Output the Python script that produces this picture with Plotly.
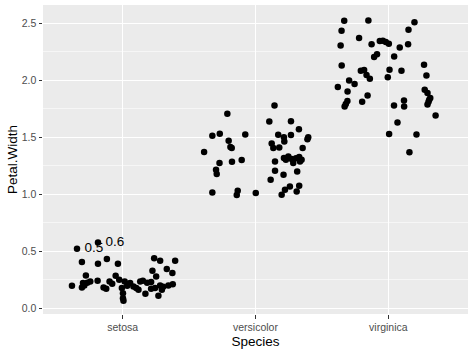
import plotly.graph_objects as go

species = ["setosa", "versicolor", "virginica"]

setosa_dx = [-0.344, -0.186, -0.307, -0.186, -0.119, -0.036, -0.277, -0.053, -0.026,
             -0.382, -0.299, -0.307, -0.289, -0.244, -0.189, -0.144, -0.124, -0.099,
             0.015, -0.006, 0.002, 0.002, 0.006, 0.056, 0.081, 0.102, 0.132, 0.152,
             0.119, 0.171, 0.214, 0.244, 0.282, 0.295, 0.269, 0.344, 0.377, 0.237,
             0.282, 0.395, 0.224, 0.332, 0.374, 0.252,
             -0.267, -0.079, 0.034, 0.184, 0.305, 0.214]
setosa_pw = [0.522, 0.577, 0.405, 0.390, 0.432, 0.390, 0.288, 0.285, 0.250,
             0.197, 0.221, 0.182, 0.200, 0.235, 0.241, 0.182, 0.171, 0.235,
             0.235, 0.177, 0.133, 0.089, 0.066, 0.221, 0.191, 0.177, 0.235, 0.241,
             0.162, 0.127, 0.230, 0.177, 0.200, 0.162, 0.110, 0.200, 0.212, 0.440,
             0.417, 0.417, 0.329, 0.344, 0.309, 0.279,
             0.224, 0.215, 0.197, 0.224, 0.189, 0.171]

versicolor_dx = [-0.325, -0.134, -0.141, 0.002, 0.222, 0.310, 0.197,
                 0.114, 0.329, 0.259,
                 -0.297, -0.292, 0.147, 0.314, 0.211,
                 -0.271, -0.177, -0.104, 0.147, 0.214, 0.247, 0.272, 0.284, 0.329,
                 0.347, 0.335, 0.229, 0.305,
                 -0.189, -0.179, -0.387, 0.134, 0.179, 0.355, 0.122,
                 -0.325, -0.269, -0.077, -0.202, 0.171, 0.214, 0.267, 0.397, 0.391, 0.217,
                 0.104, 0.267, 0.327,
                 -0.212, 0.143]
versicolor_pw = [1.016, 1.031, 0.993, 1.011, 1.039, 1.025, 0.996,
                 1.127, 1.075, 1.068,
                 1.215, 1.178, 1.206, 1.200, 1.171,
                 1.274, 1.285, 1.300, 1.288, 1.318, 1.332, 1.309, 1.274, 1.326,
                 1.303, 1.288, 1.303, 1.316,
                 1.414, 1.405, 1.370, 1.405, 1.411, 1.405, 1.445,
                 1.513, 1.531, 1.525, 1.469, 1.522, 1.500, 1.520, 1.500, 1.482, 1.463,
                 1.639, 1.640, 1.570,
                 1.706, 1.779]

virginica_dx = [-0.332, -0.150, 0.197,
                -0.352, 0.152, -0.220,
                -0.359, -0.126, -0.064, -0.041, -0.019, 0.004, 0.086, 0.149,
                -0.107, -0.085, 0.044,
                -0.351, -0.207, -0.182, 0.009, 0.099, 0.269,
                -0.164, -0.139, 0.287, -0.004, -0.295, -0.254,
                -0.380, -0.307, -0.156, 0.274, 0.295,
                -0.197, -0.308, -0.320, -0.329, 0.316, 0.303, 0.295, 0.118, 0.119, 0.043, 0.308,
                0.356, 0.069, 0.006, 0.212, 0.159]
virginica_pw = [2.522, 2.525, 2.509,
                2.434, 2.443, 2.370,
                2.304, 2.315, 2.344, 2.346, 2.335, 2.320, 2.288, 2.315,
                2.204, 2.227, 2.209,
                2.130, 2.083, 2.089, 2.092, 2.083, 2.136,
                2.046, 2.013, 2.042, 2.026, 1.998, 1.967,
                1.940, 1.902, 1.867, 1.917, 1.888,
                1.811, 1.818, 1.791, 1.770, 1.844, 1.811, 1.788, 1.822, 1.770, 1.778, 1.829,
                1.690, 1.630, 1.529, 1.525, 1.368]

# labelled setosa observations (index into setosa arrays, label text)
label_idx = [0, 1]
label_txt = ["0.5", "0.6"]

yticks = [0.0, 0.5, 1.0, 1.5, 2.0, 2.5]

fig = go.Figure()
groups = [(setosa_dx, setosa_pw), (versicolor_dx, versicolor_pw), (virginica_dx, virginica_pw)]
for i, (dx, pw) in enumerate(groups):
    fig.add_trace(go.Scatter(
        x=[i + d for d in dx], y=pw, mode="markers",
        marker=dict(color="black", size=6.5, line=dict(width=0)),
        showlegend=False, hoverinfo="skip"))

fig.add_trace(go.Scatter(
    x=[0 + setosa_dx[k] for k in label_idx], y=[setosa_pw[k] for k in label_idx],
    mode="text", text=["  " + t for t in label_txt], textposition="middle right",
    textfont=dict(family="Liberation Sans, Arial, sans-serif", size=13.5, color="black"),
    showlegend=False, hoverinfo="skip"))

fig.update_layout(
    width=474, height=355,
    margin=dict(l=43, r=6, t=5, b=41),
    paper_bgcolor="white", plot_bgcolor="#EBEBEB",
    font=dict(family="Liberation Sans, Arial, sans-serif"),
    xaxis=dict(
        range=[-0.6, 2.6], tickvals=[0, 1, 2], ticktext=species,
        showgrid=True, gridcolor="white", gridwidth=1.1, zeroline=False,
        ticks="outside", ticklen=3.5, tickwidth=1, tickcolor="#333333",
        tickfont=dict(size=10.5, color="#4D4D4D"),
        title=dict(text="Species", font=dict(size=13.5, color="black"), standoff=4),
        showline=False,
    ),
    yaxis=dict(
        range=[-0.05, 2.66], tickvals=yticks, ticktext=[f"{v:.1f}" for v in yticks],
        showgrid=True, gridcolor="white", gridwidth=1.1, zeroline=False,
        ticks="outside", ticklen=3.5, tickwidth=1, tickcolor="#333333",
        tickfont=dict(size=10.5, color="#4D4D4D"),
        title=dict(text="Petal.Width", font=dict(size=13.5, color="black"), standoff=1),
        minor=dict(tickvals=[0.25, 0.75, 1.25, 1.75, 2.25], showgrid=True,
                   gridcolor="#F6F6F6", gridwidth=0.6, ticks=""),
        showline=False,
    ),
)

fig.write_html("out.html", config={"displayModeBar": False},
               post_script="document.body.style.margin='0';")
